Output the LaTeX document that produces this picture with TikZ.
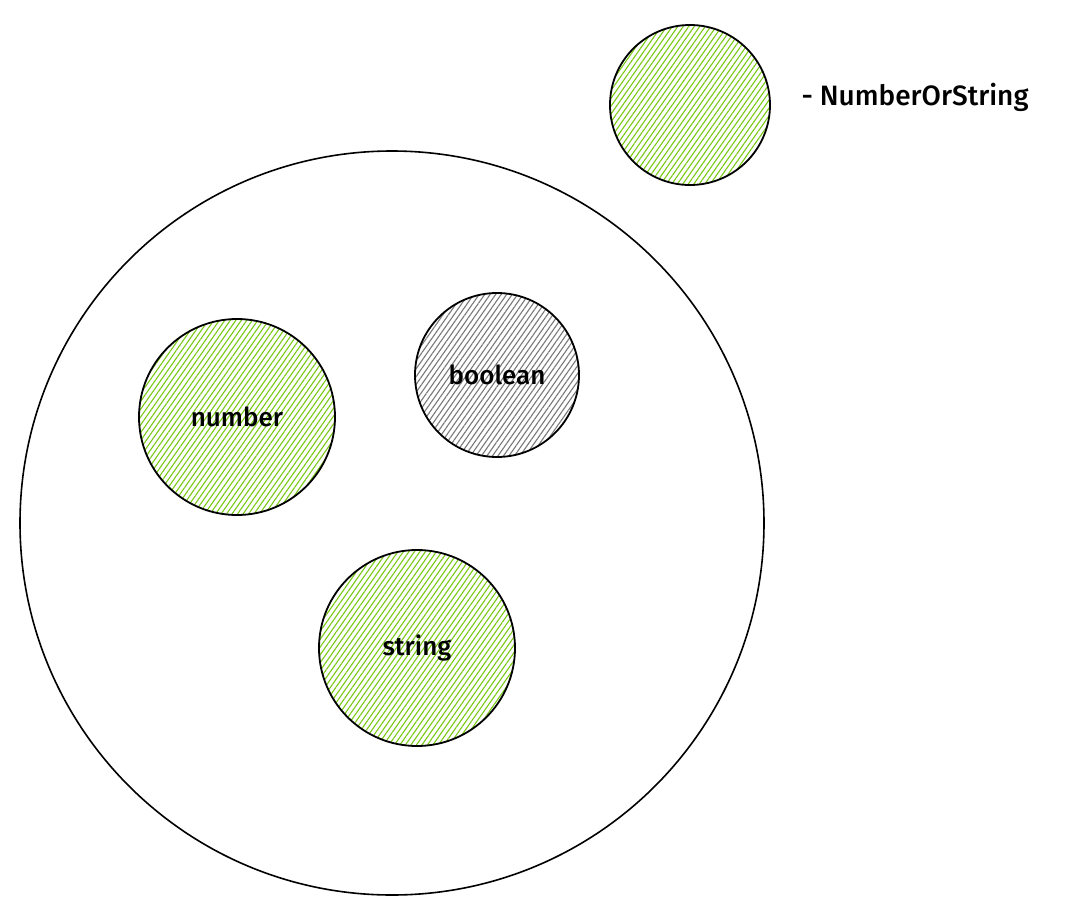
\documentclass[tikz,border=0pt]{standalone}
\usepackage{fontspec}
\setmainfont{Fira Sans}[UprightFont=* Medium]
\usetikzlibrary{patterns.meta}
\definecolor{hgreen}{RGB}{120,200,20}
\definecolor{hgray}{RGB}{120,120,120}
\tikzset{
  setc/.style={circle,draw=black,line width=1.8pt,inner sep=0pt,font=\fontsize{26}{30}\selectfont},
  greenset/.style={setc,pattern={Lines[angle=55,distance=4.5pt,line width=1.1pt]},pattern color=hgreen},
  grayset/.style={setc,pattern={Lines[angle=55,distance=4.5pt,line width=1.1pt]},pattern color=hgray}
}
\begin{document}
\begin{tikzpicture}[x=1pt,y=-1pt]
\useasboundingbox (0,0) rectangle (1085,916);
\node[circle,draw=black,line width=1.6pt,minimum size=744pt,inner sep=0pt] (universe) at (392,523) {};
\node[greenset,minimum size=160pt] (legend) at (690,105) {};
\node[anchor=west,font=\fontsize{28}{32}\selectfont] (legendtext) at (798,97) {- NumberOrString};
\node[greenset,minimum size=196pt] (number) at (237,417) {number};
\node[grayset,minimum size=164pt] (boolean) at (497,375) {boolean};
\node[greenset,minimum size=196pt] (string) at (417,648) {string};
\end{tikzpicture}
\end{document}
